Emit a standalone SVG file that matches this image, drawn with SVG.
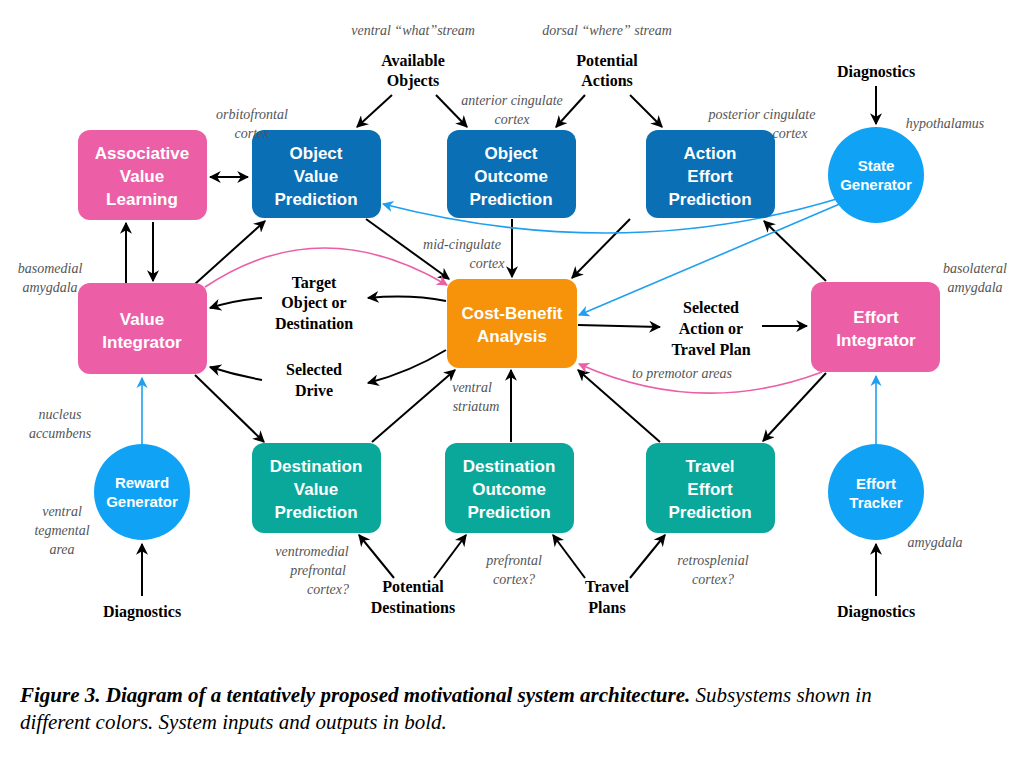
<svg xmlns="http://www.w3.org/2000/svg" width="1024" height="768" viewBox="0 0 1024 768">
<style>
.n{font-family:"Liberation Sans",Arial,sans-serif;font-weight:bold;font-size:17px;fill:#fff;text-anchor:middle}
.c{font-family:"Liberation Sans",Arial,sans-serif;font-weight:bold;font-size:15px;fill:#fff;text-anchor:middle}
.b{font-family:"Liberation Serif","Times New Roman",serif;font-weight:bold;font-size:16px;fill:#000;text-anchor:middle}
.i{font-family:"Liberation Serif","Times New Roman",serif;font-style:italic;font-size:14px;fill:#555;text-anchor:middle}
.cap{font-family:"Liberation Serif","Times New Roman",serif;font-style:italic;font-size:21px;fill:#000}
.k{stroke:#000;stroke-width:2;fill:none;marker-end:url(#ak)}
.bl{stroke:#1ea0ef;stroke-width:1.6;fill:none;marker-end:url(#ab)}
.pk{stroke:#ec5fa6;stroke-width:1.6;fill:none;marker-end:url(#ap)}
.pink{fill:#ec5fa6}.blue{fill:#0a6fb5}.org{fill:#f7920b}.teal{fill:#0aa89a}.cy{fill:#10a3f5}
</style>
<defs>
<marker id="ak" viewBox="0 0 10 10" refX="9" refY="5" markerWidth="6" markerHeight="6" orient="auto-start-reverse"><path d="M0,0L10,5L0,10L3,5Z" fill="#000"/></marker>
<marker id="ab" viewBox="0 0 10 10" refX="9" refY="5" markerWidth="7" markerHeight="7" orient="auto"><path d="M0,0L10,5L0,10L3,5Z" fill="#1ea0ef"/></marker>
<marker id="ap" viewBox="0 0 10 10" refX="9" refY="5" markerWidth="7" markerHeight="7" orient="auto"><path d="M0,0L10,5L0,10L3,5Z" fill="#ec5fa6"/></marker>
</defs>
<rect width="1024" height="768" fill="#fff"/>
<g id="connectors">
<path class="k" d="M392,95L357,127"/><path class="k" d="M436,95L467,127"/>
<path class="k" d="M585,95L556,127"/><path class="k" d="M630,95L662,127"/>
<path class="k" d="M876,86L876,124"/>
<path class="k" d="M210,177L248,177" marker-start="url(#ak)"/>
<path class="k" d="M126,283L126,223"/><path class="k" d="M153,222L153,281"/>
<path class="k" d="M195,284L265,221"/>
<path class="k" d="M366,219L449,279"/>
<path class="k" d="M512,219L512,277"/>
<path class="k" d="M630,219L572,278"/>
<path class="k" d="M446,301Q410,294 368,298"/>
<path class="k" d="M262,298Q235,300 210,308"/>
<path class="k" d="M446,350Q410,372 368,383"/>
<path class="k" d="M262,380Q235,375 210,367"/>
<path class="k" d="M195,375L264,442"/>
<path class="k" d="M372,442L455,370"/>
<path class="k" d="M511,442L511,370"/>
<path class="k" d="M660,442L578,370"/>
<path class="k" d="M578,325L660,327"/><path class="k" d="M762,326L807,326"/>
<path class="k" d="M826,281L764,221"/>
<path class="k" d="M826,373L763,441"/>
<path class="k" d="M394,578L359,535"/><path class="k" d="M434,578L466,535"/>
<path class="k" d="M585,578L553,535"/><path class="k" d="M630,578L665,535"/>
<path class="k" d="M142,596L142,544"/>
<path class="k" d="M876,596L876,544"/>
<path class="bl" d="M840,198Q620,265 383,204"/>
<path class="bl" d="M842,203L579,315"/>
<path class="bl" d="M142,444L142,378"/>
<path class="bl" d="M876,444L876,376"/>
<path class="pk" d="M205,287Q320,210 447,285"/>
<path class="pk" d="M822,372Q700,418 579,364"/>
</g>
<g id="avl"><rect class="pink" x="78" y="130" width="129" height="90" rx="12"/><text class="n" x="142" y="159">Associative</text><text class="n" x="142" y="182">Value</text><text class="n" x="142" y="205">Learning</text></g>
<g id="ovp"><rect class="blue" x="252" y="130" width="129" height="88" rx="12"/><text class="n" x="316" y="159">Object</text><text class="n" x="316" y="182">Value</text><text class="n" x="316" y="205">Prediction</text></g>
<g id="oop"><rect class="blue" x="447" y="130" width="129" height="88" rx="12"/><text class="n" x="511" y="159">Object</text><text class="n" x="511" y="182">Outcome</text><text class="n" x="511" y="205">Prediction</text></g>
<g id="aep"><rect class="blue" x="646" y="130" width="129" height="88" rx="12"/><text class="n" x="710" y="159">Action</text><text class="n" x="710" y="182">Effort</text><text class="n" x="710" y="205">Prediction</text></g>
<g id="sg"><circle class="cy" cx="876" cy="175" r="48"/><text class="c" x="876" y="171">State</text><text class="c" x="876" y="190">Generator</text></g>
<g id="vi"><rect class="pink" x="78" y="283" width="129" height="91" rx="12"/><text class="n" x="142" y="325">Value</text><text class="n" x="142" y="348">Integrator</text></g>
<g id="cba"><rect class="org" x="447" y="279" width="130" height="89" rx="12"/><text class="n" x="512" y="319">Cost-Benefit</text><text class="n" x="512" y="342">Analysis</text></g>
<g id="ei"><rect class="pink" x="811" y="282" width="129" height="90" rx="12"/><text class="n" x="876" y="323">Effort</text><text class="n" x="876" y="346">Integrator</text></g>
<g id="rg"><circle class="cy" cx="142" cy="492" r="48"/><text class="c" x="142" y="488">Reward</text><text class="c" x="142" y="507">Generator</text></g>
<g id="dvp"><rect class="teal" x="252" y="443" width="129" height="90" rx="12"/><text class="n" x="316" y="472">Destination</text><text class="n" x="316" y="495">Value</text><text class="n" x="316" y="518">Prediction</text></g>
<g id="dop"><rect class="teal" x="445" y="443" width="129" height="90" rx="12"/><text class="n" x="509" y="472">Destination</text><text class="n" x="509" y="495">Outcome</text><text class="n" x="509" y="518">Prediction</text></g>
<g id="tep"><rect class="teal" x="646" y="443" width="129" height="90" rx="12"/><text class="n" x="710" y="472">Travel</text><text class="n" x="710" y="495">Effort</text><text class="n" x="710" y="518">Prediction</text></g>
<g id="et"><circle class="cy" cx="876" cy="492" r="48"/><text class="c" x="876" y="489">Effort</text><text class="c" x="876" y="508">Tracker</text></g>
<g id="labels">
<text class="b" x="413" y="66">Available</text><text class="b" x="413" y="86">Objects</text>
<text class="b" x="607" y="66">Potential</text><text class="b" x="607" y="86">Actions</text>
<text class="b" x="876" y="77">Diagnostics</text>
<text class="b" x="314" y="288">Target</text><text class="b" x="314" y="308">Object or</text><text class="b" x="314" y="329">Destination</text>
<text class="b" x="314" y="375">Selected</text><text class="b" x="314" y="396">Drive</text>
<text class="b" x="711" y="313">Selected</text><text class="b" x="711" y="334">Action or</text><text class="b" x="711" y="355">Travel Plan</text>
<text class="b" x="413" y="592">Potential</text><text class="b" x="413" y="613">Destinations</text>
<text class="b" x="607" y="592">Travel</text><text class="b" x="607" y="613">Plans</text>
<text class="b" x="142" y="617">Diagnostics</text>
<text class="b" x="876" y="617">Diagnostics</text>
<text class="i" x="413" y="35">ventral “what”stream</text>
<text class="i" x="607" y="35">dorsal “where” stream</text>
<text class="i" x="252" y="119">orbitofrontal</text><text class="i" x="252" y="138">cortex</text>
<text class="i" x="512" y="105">anterior cingulate</text><text class="i" x="512" y="124">cortex</text>
<text class="i" x="762" y="119">posterior cingulate</text><text class="i" x="790" y="138">cortex</text>
<text class="i" x="945" y="128">hypothalamus</text>
<text class="i" x="462" y="249">mid-cingulate</text><text class="i" x="487" y="268">cortex</text>
<text class="i" x="50" y="273">basomedial</text><text class="i" x="50" y="292">amygdala</text>
<text class="i" x="975" y="273">basolateral</text><text class="i" x="975" y="292">amygdala</text>
<text class="i" x="682" y="378">to premotor areas</text>
<text class="i" x="472" y="392">ventral</text><text class="i" x="476" y="411">striatum</text>
<text class="i" x="60" y="419">nucleus</text><text class="i" x="60" y="438">accumbens</text>
<text class="i" x="62" y="516">ventral</text><text class="i" x="62" y="535">tegmental</text><text class="i" x="62" y="554">area</text>
<text class="i" x="312" y="556">ventromedial</text><text class="i" x="318" y="575">prefrontal</text><text class="i" x="328" y="594">cortex?</text>
<text class="i" x="514" y="565">prefrontal</text><text class="i" x="514" y="584">cortex?</text>
<text class="i" x="713" y="565">retrosplenial</text><text class="i" x="713" y="584">cortex?</text>
<text class="i" x="935" y="547">amygdala</text>
</g>
<text class="cap" x="20" y="702"><tspan font-weight="bold">Figure 3. Diagram of a tentatively proposed motivational system architecture.</tspan> Subsystems shown in</text>
<text class="cap" x="20" y="729">different colors. System inputs and outputs in bold.</text>
</svg>
